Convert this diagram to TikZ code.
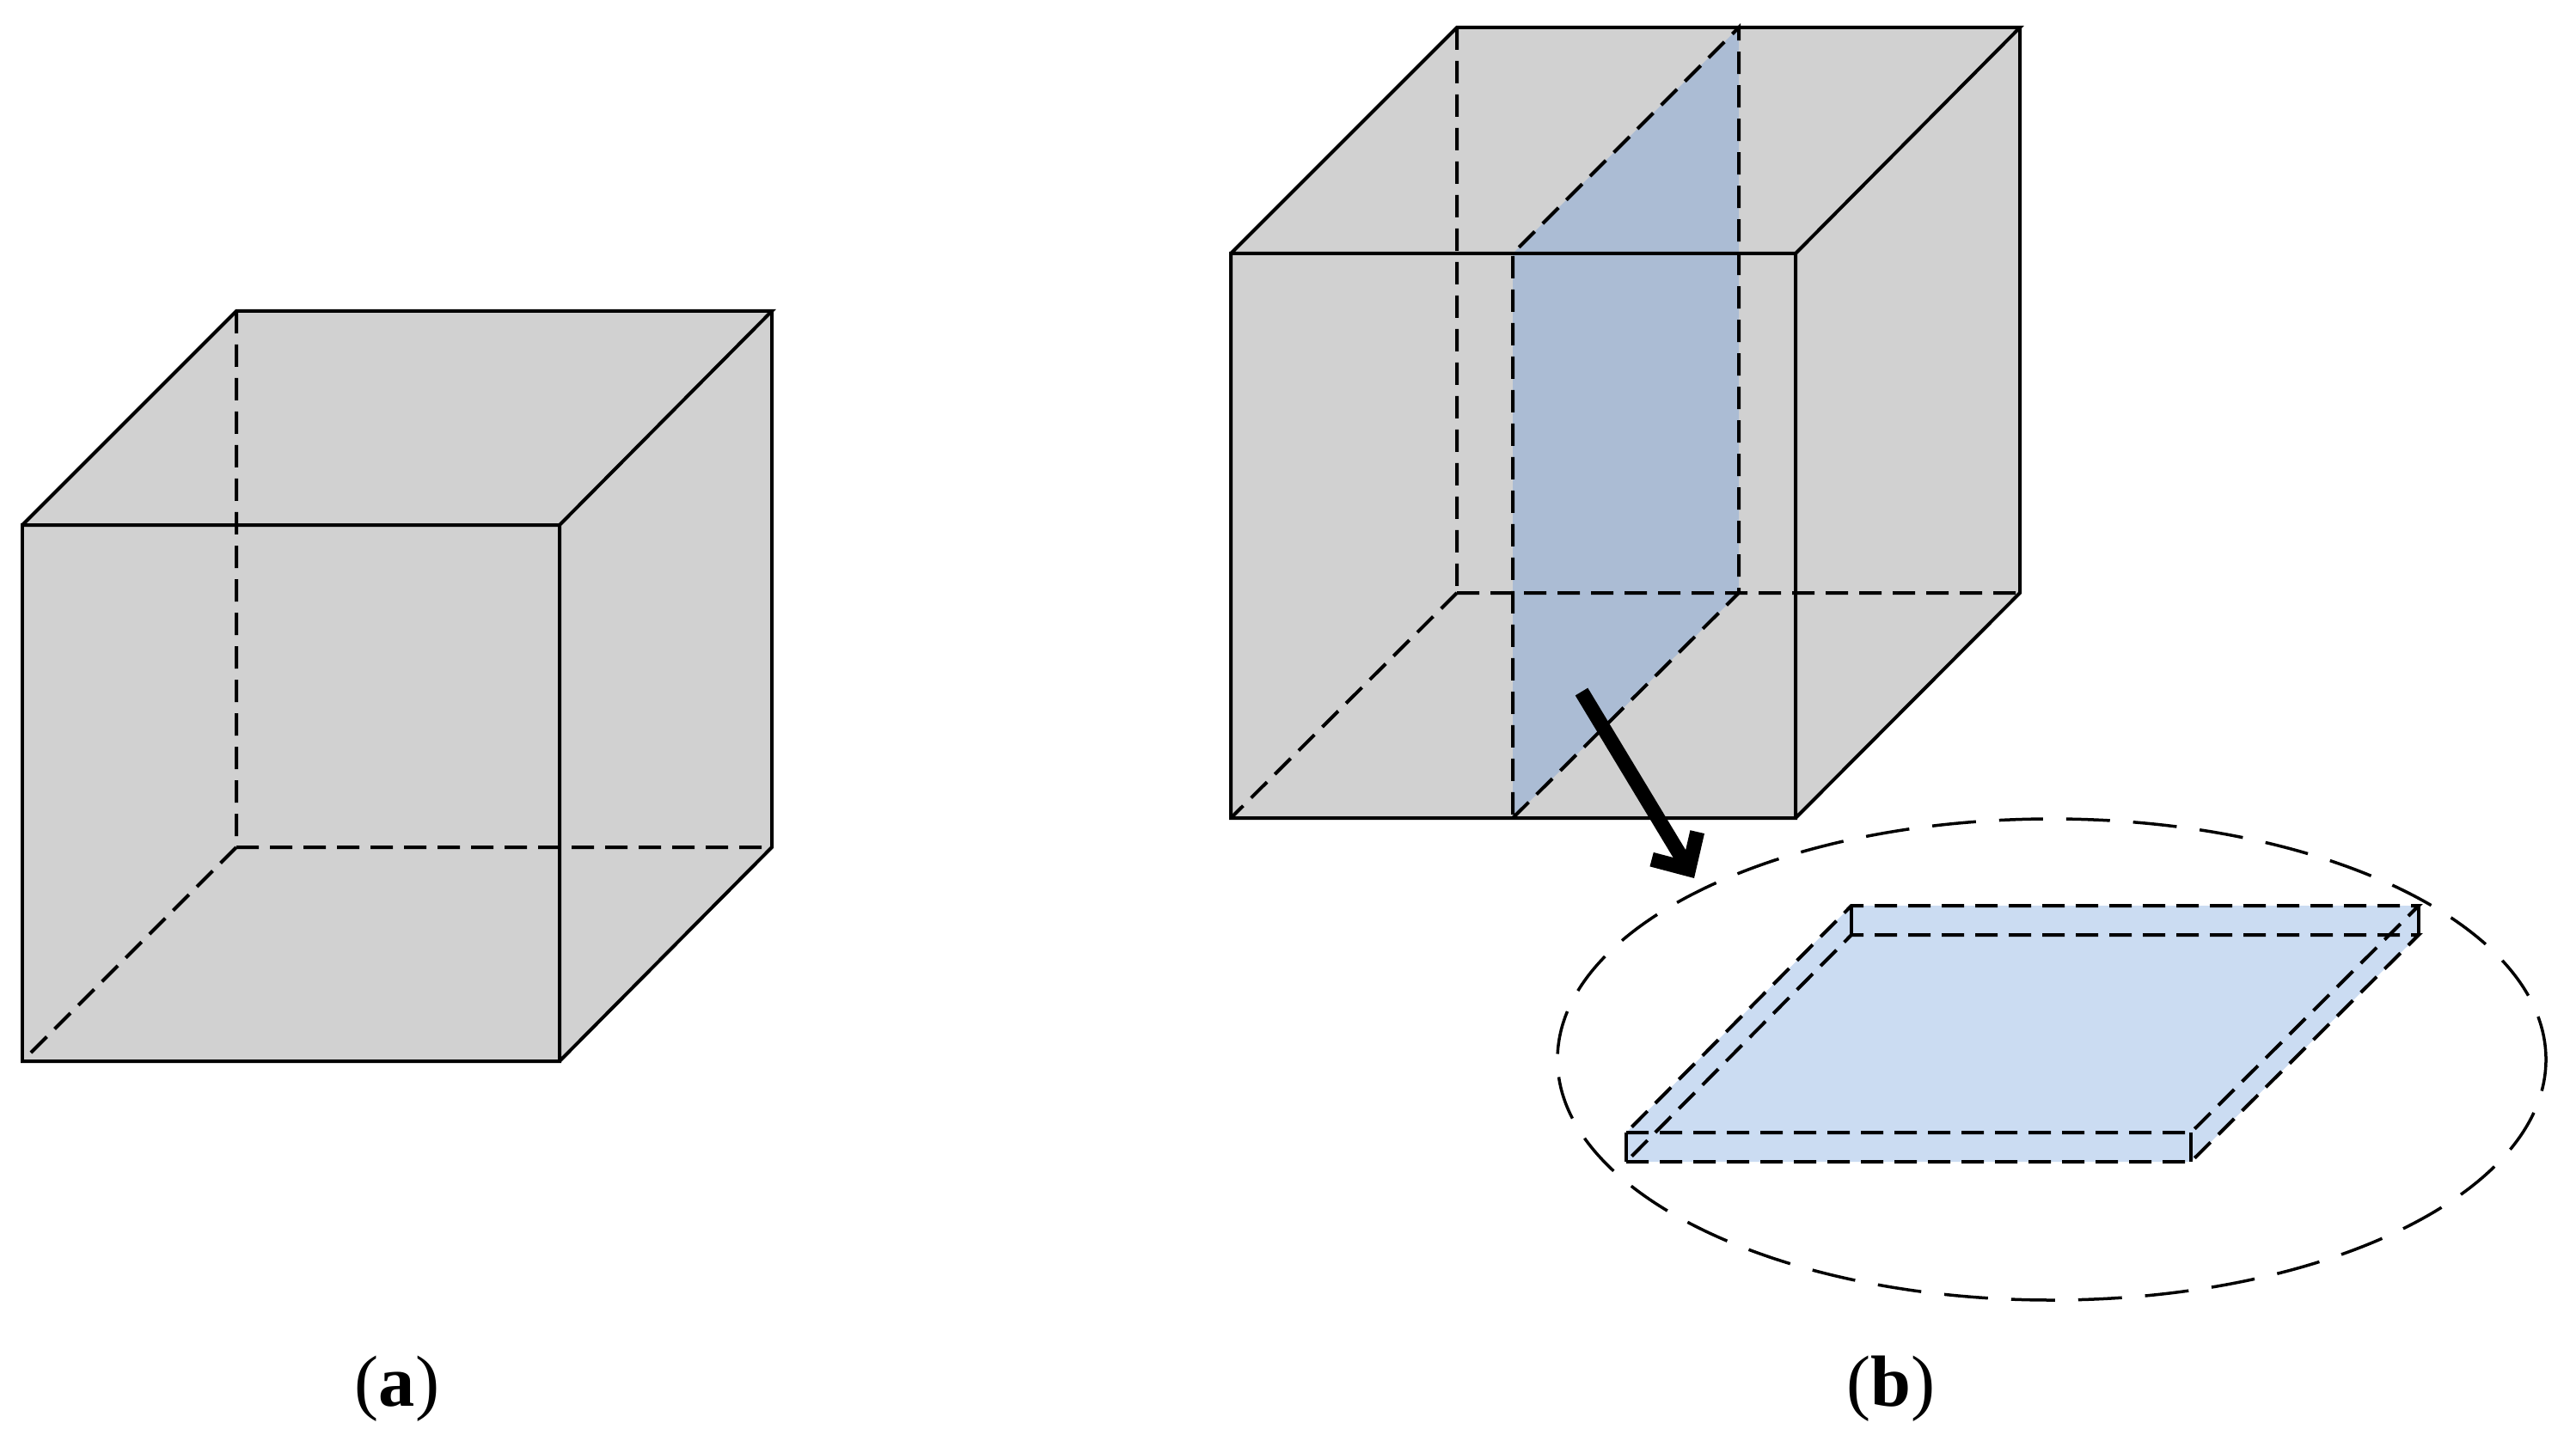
\documentclass[tikz,border=0pt]{standalone}
\usepackage{fontspec}
\setmainfont{Liberation Serif}
\usetikzlibrary{arrows.meta}
\tikzset{
  solidline/.style={line width=0.04cm,line join=miter},
  hiddenline/.style={line width=0.04cm,dash pattern=on 0.26cm off 0.13cm},
  caption/.style={font=\fontsize{24}{26}\selectfont,inner sep=0}
}
\definecolor{cubegray}{HTML}{D1D1D1}
\definecolor{cutblue}{HTML}{ABBCD4}
\definecolor{plateblue}{HTML}{CBDCF2}

\begin{document}
\begin{tikzpicture}
  \useasboundingbox (0,0) rectangle (29.97,16.76);

  \coordinate (a1) at (0.26,4.41);
  \coordinate (a2) at (6.51,4.41);
  \coordinate (a3) at (6.51,10.65);
  \coordinate (a4) at (0.26,10.65);
  \coordinate (a5) at (2.75,6.90);
  \coordinate (a6) at (8.98,6.90);
  \coordinate (a7) at (8.98,13.14);
  \coordinate (a8) at (2.75,13.14);
  \fill[cubegray] (a1) -- (a2) -- (a6) -- (a7) -- (a8) -- (a4) -- cycle;
  \draw[solidline] (a1) -- (a2) -- (a3) -- (a4) -- cycle (a4) -- (a8) -- (a7) -- (a3) (a7) -- (a6) -- (a2);
  \draw[hiddenline] (a8) -- (a5) (a5) -- (a6) (a5) -- (a1);

  \coordinate (b1) at (14.32,7.24);
  \coordinate (b2) at (20.89,7.24);
  \coordinate (b3) at (20.89,13.81);
  \coordinate (b4) at (14.32,13.81);
  \coordinate (b5) at (16.95,9.86);
  \coordinate (b6) at (23.50,9.86);
  \coordinate (b7) at (23.50,16.44);
  \coordinate (b8) at (16.95,16.44);
  \coordinate (c1) at (17.60,7.24);
  \coordinate (c2) at (20.23,9.86);
  \coordinate (c3) at (20.23,16.44);
  \coordinate (c4) at (17.60,13.81);
  \fill[cubegray] (b1) -- (b2) -- (b6) -- (b7) -- (b8) -- (b4) -- cycle;
  \fill[cutblue] (c1) -- (c2) -- (c3) -- (c4) -- cycle;
  \draw[solidline] (b1) -- (b2) -- (b3) -- (b4) -- cycle (b4) -- (b8) -- (b7) -- (b3) (b7) -- (b6) -- (b2);
  \draw[hiddenline] (b8) -- (b5) (b5) -- (b6) (b5) -- (b1);
  \draw[hiddenline] (c1) -- (c2) -- (c3) -- (c4) -- cycle;

  \coordinate (p1) at (18.92,3.24);
  \coordinate (p2) at (25.49,3.24);
  \coordinate (p3) at (28.14,5.88);
  \coordinate (p4) at (21.54,5.88);
  \coordinate (q1) at (18.92,3.58);
  \coordinate (q2) at (25.49,3.58);
  \coordinate (q3) at (28.14,6.22);
  \coordinate (q4) at (21.54,6.22);
  \fill[plateblue] (p1) -- (p2) -- (p3) -- (q3) -- (q4) -- (q1) -- cycle;
  \draw[hiddenline] (p1) -- (p2) -- (p3) -- (p4) -- cycle;
  \draw[hiddenline] (q1) -- (q2) -- (q3) -- (q4) -- cycle;
  \draw[solidline] (p1) -- (q1) (p2) -- (q2) (p3) -- (q3) (p4) -- (q4);

  \coordinate (lens) at (23.87,4.43);
  \draw[line width=0.035cm,dash pattern=on 0.51cm off 0.27cm] (lens) ellipse [x radius=5.75,y radius=2.80];

  \coordinate (from) at (18.40,8.71);
  \coordinate (to) at (19.71,6.54);
  \draw[line width=0.17cm,-{Straight Barb[length=0.32cm,width=0.62cm,line width=0.17cm]}] (from) -- (to);

  \node[caption] (capa) at (4.62,0.60) {(\textbf{a})};
  \node[caption] (capb) at (22.00,0.60) {(\textbf{b})};
\end{tikzpicture}
\end{document}
